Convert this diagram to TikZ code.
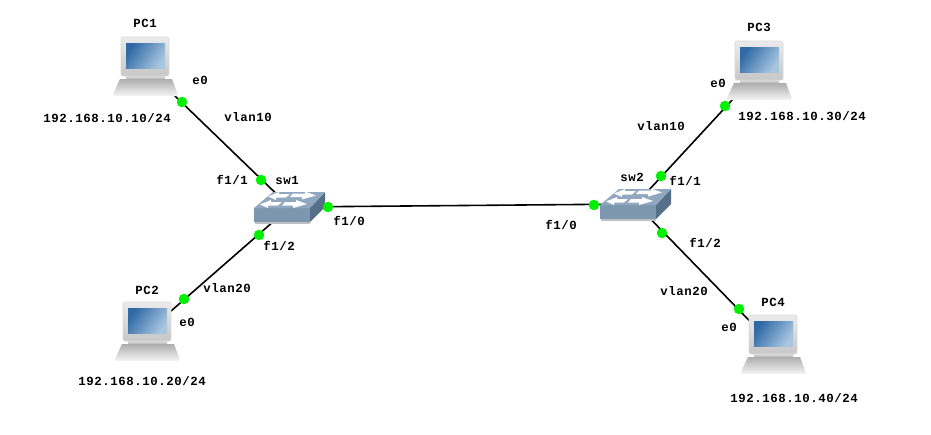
\documentclass[tikz,border=0pt]{standalone}
\usepackage{fontspec}
\setmainfont{Liberation Mono}
\newfontfamily\lblfont[LetterSpace=4.5]{Liberation Mono}
\definecolor{scrA}{HTML}{2F6AA6}
\definecolor{scrB}{HTML}{A9C6E0}
\definecolor{swtop}{HTML}{8FA8C0}
\definecolor{swfront}{HTML}{7D97B0}
\definecolor{swside}{HTML}{566F88}
\definecolor{portgreen}{HTML}{00F000}
\tikzset{
  x=1pt,y=-1pt,
  link/.style={draw=black,line width=1.6pt},
  port/.style={circle,fill=portgreen,draw=none,minimum size=10.5pt,inner sep=0pt},
  lbl/.style={font=\lblfont\fontsize{12.4}{13}\selectfont\bfseries,text=black,inner sep=0pt},
  device/.style={inner sep=0pt,minimum size=0pt,outer sep=0pt},
  pc/.pic={
    \draw[black!15,line width=.6pt,top color=black!8,bottom color=black!22,rounded corners=2pt] (-24,-30) rectangle (24,9);
    \path[left color=scrA,right color=scrB,shading angle=55] (-19,-24) rectangle (20,1);
    \path[top color=black!15,bottom color=black!28] (-19,9) rectangle (20,12);
    \path[top color=black!32,bottom color=black!4] (-25,12) -- (27,12) -- (33,28) to[out=100,in=0] (31,29) -- (-30,29) to[out=180,in=-80] (-32,27) -- cycle;
  },
  swpic/.pic={
    \fill[black!25] (-35,15) -- (20,15) -- (20,16.5) -- (-35,16.5) -- cycle;
    \fill[swfront] (-36,1) rectangle (20,15);
    \fill[swside] (20,1) -- (35,-15) -- (35,0) -- (20,15) -- cycle;
    \fill[swtop] (-36,1) -- (-17,-15) -- (35,-15) -- (20,1) -- cycle;
    \fill[white] (-22,-10.5) -- (-11,-15) -- (-11,-13) -- (0,-13) -- (-4,-9.5) -- (-14,-9.5) -- (-14,-7) -- cycle;
    \fill[white] (26,-11.5) -- (15,-15.5) -- (15,-13.5) -- (3,-13.5) -- (0,-10) -- (12,-10) -- (12,-7.5) -- cycle;
    \fill[white] (-30,-2.5) -- (-19,-7) -- (-19,-5) -- (-8,-5) -- (-12,-1.5) -- (-22,-1.5) -- (-22,1) -- cycle;
    \fill[white] (17,-3) -- (6,-7) -- (6,-5) -- (-5,-5) -- (-8,-1.5) -- (3,-1.5) -- (3,1) -- cycle;
  }
}
\begin{document}
\begin{tikzpicture}
\useasboundingbox (0,0) rectangle (931,434);
\node[device] (pc1) at (145,67) {};
\node[device] (pc2) at (147,332) {};
\node[device] (pc3) at (759,71) {};
\node[device] (pc4) at (773,345) {};
\node[device] (sw1) at (290,207) {};
\node[device] (sw2) at (636,204) {};
\draw[link] (pc1.center) -- (sw1.center);
\draw[link] (pc2.center) -- (sw1.center);
\draw[link] (pc3.center) -- (sw2.center);
\draw[link] (pc4.center) -- (sw2.center);
\draw[link] (sw1.center) -- (sw2.center);
\pic at (pc1) {pc};
\pic at (pc2) {pc};
\pic at (pc3) {pc};
\pic at (pc4) {pc};
\pic at (sw1) {swpic};
\pic at (sw2) {swpic};
\node[port] (p1) at (182,102) {};
\node[port] (p2) at (261,180) {};
\node[port] (p3) at (184,299) {};
\node[port] (p4) at (259,235) {};
\node[port] (p5) at (328,207) {};
\node[port] (p6) at (594,205) {};
\node[port] (p7) at (725,106) {};
\node[port] (p8) at (661,176) {};
\node[port] (p9) at (662,233) {};
\node[port] (p10) at (739,309) {};
\node[lbl] (t1) at (145,23) {PC1};
\node[lbl] (t2) at (147,290) {PC2};
\node[lbl] (t3) at (759,27) {PC3};
\node[lbl] (t4) at (773,302) {PC4};
\node[lbl] (t5) at (287,180) {sw1};
\node[lbl] (t6) at (632,177) {sw2};
\node[lbl] (t7) at (200,80) {e0};
\node[lbl] (t8) at (187,322) {e0};
\node[lbl] (t9) at (718,83) {e0};
\node[lbl] (t10) at (729,327) {e0};
\node[lbl] (t11) at (248,117) {vlan10};
\node[lbl] (t12) at (227,288) {vlan20};
\node[lbl] (t13) at (661,126) {vlan10};
\node[lbl] (t14) at (684,291) {vlan20};
\node[lbl] (t15) at (232,180) {f1/1};
\node[lbl] (t16) at (279,246) {f1/2};
\node[lbl] (t17) at (349,221) {f1/0};
\node[lbl] (t18) at (561,225) {f1/0};
\node[lbl] (t19) at (685,181) {f1/1};
\node[lbl] (t20) at (705,243) {f1/2};
\node[lbl] (t21) at (107,118) {192.168.10.10/24};
\node[lbl] (t22) at (142,381) {192.168.10.20/24};
\node[lbl] (t23) at (802,116) {192.168.10.30/24};
\node[lbl] (t24) at (794,398) {192.168.10.40/24};
\end{tikzpicture}
\end{document}
